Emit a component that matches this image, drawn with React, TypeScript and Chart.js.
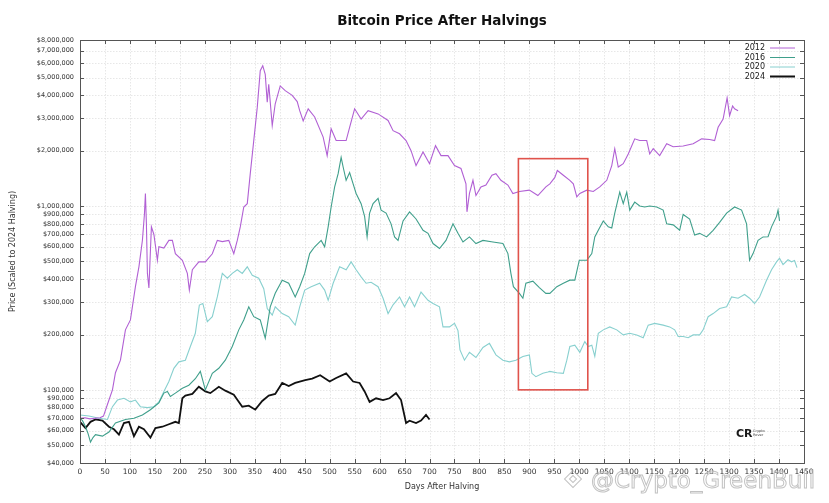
import { useEffect, useRef } from "react";
import { Chart, registerables } from "chart.js";

Chart.register(...registerables);

const seriesLabels = ["2012", "2016", "2020", "2024"];
const seriesColors = ["#b160d4", "#3f9f8b", "#88d0cf", "#111111"];
const seriesWidths = [1.1, 1.1, 1.1, 1.8];

const days2012 = [0, 10, 20, 30, 40, 47, 58, 65, 71, 81, 91, 101, 111, 118, 125, 129, 131, 133, 135, 138, 143, 148, 155, 158, 168, 178, 185, 191, 205, 215, 219, 225, 238, 251, 265, 275, 285, 298, 308, 315, 321, 328, 335, 341, 348, 355, 361, 366, 371, 375, 378, 385, 391, 401, 411, 425, 435, 440, 447, 457, 470, 487, 495, 503, 513, 533, 540, 550, 563, 577, 597, 617, 627, 640, 653, 663, 673, 687, 700, 712, 723, 737, 750, 763, 773, 775, 780, 787, 793, 803, 813, 825, 833, 843, 857, 867, 880, 900, 917, 933, 941, 951, 956, 968, 981, 988, 995, 1001, 1015, 1028, 1041, 1055, 1065, 1071, 1078, 1088, 1098, 1111, 1121, 1135, 1141, 1148, 1161, 1175, 1188, 1208, 1228, 1245, 1261, 1271, 1278, 1288, 1296, 1301, 1307, 1311, 1318];
const price2012 = [70000, 70500, 69500, 70000, 70500, 72000, 88000, 100000, 124000, 145000, 212000, 240000, 364000, 467000, 651000, 900000, 1170000, 800000, 430000, 358000, 770000, 700000, 507000, 600000, 590000, 650000, 650000, 551000, 507000, 430000, 349000, 450000, 497000, 497000, 550000, 650000, 640000, 650000, 550000, 650000, 770000, 988000, 1030000, 1500000, 2270000, 3440000, 5450000, 5800000, 5200000, 3670000, 4600000, 2740000, 3600000, 4500000, 4240000, 4000000, 3700000, 3300000, 2900000, 3380000, 3050000, 2370000, 1880000, 2630000, 2270000, 2270000, 2680000, 3380000, 2970000, 3300000, 3170000, 2920000, 2570000, 2470000, 2270000, 2000000, 1660000, 1970000, 1700000, 2130000, 1880000, 1880000, 1660000, 1600000, 1320000, 930000, 1170000, 1380000, 1140000, 1270000, 1300000, 1470000, 1500000, 1380000, 1300000, 1170000, 1200000, 1220000, 1140000, 1270000, 1320000, 1430000, 1560000, 1470000, 1380000, 1320000, 1120000, 1170000, 1220000, 1200000, 1270000, 1380000, 1660000, 2050000, 1630000, 1700000, 1920000, 2320000, 2270000, 2270000, 1920000, 2050000, 1880000, 2180000, 2100000, 2120000, 2180000, 2320000, 2300000, 2270000, 2680000, 2970000, 3870000, 3100000, 3500000, 3380000, 3300000];

const days2016 = [0, 5, 11, 16, 21, 26, 31, 45, 58, 71, 91, 108, 125, 141, 158, 168, 175, 181, 191, 205, 218, 231, 241, 251, 265, 278, 291, 305, 318, 328, 338, 348, 361, 371, 381, 391, 405, 418, 431, 440, 450, 460, 470, 483, 490, 497, 503, 510, 517, 523, 527, 533, 540, 547, 553, 563, 570, 575, 580, 587, 597, 603, 613, 623, 630, 637, 647, 660, 673, 687, 697, 707, 720, 733, 747, 757, 767, 780, 793, 807, 827, 847, 857, 863, 868, 880, 887, 893, 907, 920, 933, 941, 955, 968, 981, 991, 1000, 1015, 1025, 1031, 1038, 1048, 1058, 1065, 1071, 1081, 1088, 1095, 1101, 1111, 1121, 1131, 1141, 1155, 1168, 1175, 1188, 1201, 1208, 1221, 1231, 1241, 1255, 1268, 1281, 1295, 1311, 1325, 1335, 1341, 1348, 1358, 1368, 1378, 1385, 1395, 1398, 1401];
const price2016 = [70000, 68000, 63000, 58000, 52000, 55000, 57000, 56000, 59000, 66000, 69000, 70000, 73000, 78000, 85000, 96000, 98000, 92000, 96000, 102000, 106000, 115000, 126000, 100000, 123000, 131000, 145000, 172000, 212000, 240000, 283000, 250000, 240000, 191000, 283000, 335000, 395000, 380000, 320000, 364000, 430000, 551000, 600000, 650000, 600000, 770000, 988000, 1270000, 1500000, 1840000, 1630000, 1380000, 1520000, 1320000, 1170000, 1030000, 878000, 679000, 915000, 1030000, 1100000, 950000, 915000, 800000, 679000, 650000, 830000, 930000, 850000, 738000, 710000, 625000, 587000, 650000, 800000, 710000, 637000, 679000, 625000, 650000, 637000, 625000, 551000, 430000, 364000, 335000, 315000, 380000, 390000, 360000, 335000, 335000, 364000, 380000, 395000, 395000, 507000, 507000, 551000, 679000, 738000, 830000, 770000, 760000, 915000, 1190000, 1030000, 1190000, 950000, 1050000, 1000000, 988000, 1000000, 988000, 950000, 800000, 790000, 738000, 900000, 850000, 695000, 710000, 679000, 738000, 815000, 915000, 988000, 950000, 800000, 507000, 551000, 650000, 679000, 680000, 770000, 878000, 950000, 830000];

const days2020 = [0, 18, 38, 55, 65, 75, 88, 101, 111, 121, 135, 148, 158, 168, 178, 188, 198, 211, 221, 231, 239, 246, 255, 265, 275, 285, 295, 305, 315, 325, 335, 345, 358, 368, 375, 385, 391, 405, 418, 431, 440, 450, 463, 480, 490, 497, 507, 520, 533, 543, 553, 563, 573, 583, 597, 607, 617, 627, 640, 650, 660, 670, 683, 697, 707, 720, 727, 740, 750, 757, 761, 770, 780, 793, 807, 820, 833, 847, 860, 873, 887, 900, 905, 913, 927, 937, 941, 955, 968, 975, 981, 991, 1001, 1011, 1018, 1025, 1031, 1038, 1048, 1061, 1075, 1088, 1101, 1115, 1128, 1138, 1151, 1168, 1181, 1191, 1198, 1208, 1218, 1228, 1241, 1248, 1258, 1268, 1281, 1295, 1305, 1318, 1331, 1341, 1351, 1361, 1375, 1385, 1395, 1401, 1408, 1418, 1425, 1431, 1436];
const price2020 = [73000, 72000, 70000, 69000, 81000, 88000, 90000, 86000, 88000, 81000, 80000, 81000, 86000, 98000, 111000, 131000, 142000, 145000, 172000, 203000, 289000, 295000, 235000, 250000, 320000, 430000, 405000, 430000, 450000, 430000, 467000, 420000, 405000, 355000, 277000, 255000, 283000, 260000, 250000, 225000, 283000, 349000, 364000, 380000, 349000, 307000, 380000, 467000, 450000, 497000, 450000, 412000, 380000, 385000, 364000, 315000, 260000, 290000, 320000, 283000, 320000, 283000, 340000, 307000, 295000, 283000, 220000, 220000, 230000, 210000, 165000, 145000, 160000, 150000, 170000, 179000, 155000, 145000, 142000, 145000, 152000, 155000, 123000, 118000, 123000, 125000, 126000, 124000, 123000, 145000, 172000, 175000, 160000, 183000, 172000, 175000, 152000, 203000, 212000, 220000, 212000, 199000, 203000, 199000, 192000, 225000, 230000, 225000, 220000, 212000, 195000, 195000, 192000, 199000, 199000, 212000, 250000, 260000, 277000, 283000, 320000, 315000, 330000, 315000, 295000, 320000, 395000, 450000, 497000, 520000, 480000, 510000, 497000, 505000, 462000];

const days2024 = [0, 11, 21, 31, 45, 58, 68, 78, 88, 98, 108, 118, 128, 141, 151, 165, 178, 191, 198, 205, 211, 225, 238, 251, 261, 278, 291, 308, 325, 338, 351, 365, 378, 391, 405, 418, 431, 451, 465, 481, 500, 513, 533, 547, 560, 570, 580, 593, 607, 620, 633, 643, 653, 660, 673, 683, 693, 700];
const price2024 = [67000, 62000, 67000, 69000, 68000, 63000, 61000, 57000, 66000, 67000, 56000, 63000, 61000, 55000, 62000, 63000, 65000, 67000, 66000, 90000, 93000, 95000, 104000, 98000, 96000, 104000, 99000, 94000, 81000, 82000, 78000, 87000, 93000, 95000, 109000, 105000, 109000, 113000, 115000, 120000, 111000, 116000, 123000, 111000, 109000, 98000, 86000, 90000, 88000, 90000, 96000, 88000, 66000, 68000, 66000, 68000, 73000, 69000];

const yTickValues = [40000, 50000, 60000, 70000, 80000, 90000, 100000, 200000, 300000, 400000, 500000, 600000, 700000, 800000, 900000, 1000000, 2000000, 3000000, 4000000, 5000000, 6000000, 7000000, 8000000];
const xRange = [0, 1450];
const xStep = 50;

const highlightDays = [878, 1017];
const highlightPrices = [100000, 1810000];

const titleText = "Bitcoin Price After Halvings";
const xTitle = "Days After Halving";
const yTitle = "Price (Scaled to 2024 Halving)";
const watermarkText = "@Crypto_GreenBull";

const FONT = "'DejaVu Sans', sans-serif";

function toPoints(d: number[], p: number[]) {
  return d.map((x, i) => ({ x, y: p[i] }));
}

const decorPlugin = {
  id: "decor",
  beforeDatasetsDraw(chart: any) {
    const { ctx, chartArea: a, scales } = chart;
    ctx.save();
    ctx.strokeStyle = "#dcdcdc";
    ctx.lineWidth = 0.7;
    ctx.setLineDash([1.5, 1.5]);
    scales.x.ticks.forEach((t: any) => {
      const px = Math.round(scales.x.getPixelForValue(t.value)) + 0.5;
      ctx.beginPath();
      ctx.moveTo(px, a.top);
      ctx.lineTo(px, a.bottom);
      ctx.stroke();
    });
    scales.y.ticks.forEach((t: any) => {
      const py = Math.round(scales.y.getPixelForValue(t.value)) + 0.5;
      ctx.beginPath();
      ctx.moveTo(a.left, py);
      ctx.lineTo(a.right, py);
      ctx.stroke();
    });
    ctx.restore();
  },
  afterDatasetsDraw(chart: any) {
    const { ctx, chartArea: a, scales } = chart;
    ctx.save();
    // highlight box
    const rx1 = scales.x.getPixelForValue(highlightDays[0]);
    const rx2 = scales.x.getPixelForValue(highlightDays[1]);
    const ry1 = scales.y.getPixelForValue(highlightPrices[1]);
    const ry2 = scales.y.getPixelForValue(highlightPrices[0]);
    ctx.strokeStyle = "#e0534c";
    ctx.lineWidth = 1.6;
    ctx.strokeRect(rx1, ry1, rx2 - rx1, ry2 - ry1);

    // border
    ctx.strokeStyle = "#555555";
    ctx.lineWidth = 1;
    ctx.strokeRect(Math.round(a.left) + 0.5, Math.round(a.top) + 0.5, Math.round(a.right - a.left), Math.round(a.bottom - a.top));
    // inward ticks
    const tl = 4;
    ctx.beginPath();
    scales.x.ticks.forEach((t: any) => {
      const px = Math.round(scales.x.getPixelForValue(t.value)) + 0.5;
      ctx.moveTo(px, a.bottom);
      ctx.lineTo(px, a.bottom - tl);
      ctx.moveTo(px, a.top);
      ctx.lineTo(px, a.top + tl);
    });
    scales.y.ticks.forEach((t: any) => {
      const py = Math.round(scales.y.getPixelForValue(t.value)) + 0.5;
      ctx.moveTo(a.left, py);
      ctx.lineTo(a.left + tl, py);
      ctx.moveTo(a.right, py);
      ctx.lineTo(a.right - tl, py);
    });
    ctx.stroke();

    // legend (gnuplot style)
    ctx.font = `8px ${FONT}`;
    ctx.textAlign = "right";
    ctx.textBaseline = "middle";
    chart.data.datasets.forEach((ds: any, i: number) => {
      const y = a.top + 8 + i * 9.5;
      ctx.fillStyle = "#222222";
      ctx.fillText(ds.label, a.right - 39, y);
      ctx.strokeStyle = ds.borderColor;
      ctx.lineWidth = i === 3 ? 2 : 1;
      ctx.beginPath();
      ctx.moveTo(a.right - 34, y);
      ctx.lineTo(a.right - 9, y);
      ctx.stroke();
    });

    // titles
    ctx.fillStyle = "#111111";
    ctx.textAlign = "center";
    ctx.textBaseline = "middle";
    ctx.font = `bold 13.5px ${FONT}`;
    ctx.fillText(titleText, (a.left + a.right) / 2, 21);
    ctx.fillStyle = "#333333";
    ctx.font = `8px ${FONT}`;
    ctx.fillText(xTitle, (a.left + a.right) / 2, 487);
    ctx.save();
    ctx.translate(13, (a.top + a.bottom) / 2);
    ctx.rotate(-Math.PI / 2);
    ctx.fillText(yTitle, 0, 0);
    ctx.restore();

    // logo
    ctx.fillStyle = "#1a1a1a";
    ctx.textAlign = "left";
    ctx.font = `bold 11px ${FONT}`;
    ctx.fillText("CR", a.right - 68, a.bottom - 29);
    ctx.font = `3.5px ${FONT}`;
    ctx.fillStyle = "#444";
    ctx.fillText("Crypto", a.right - 51, a.bottom - 31.5);
    ctx.fillText("Rover", a.right - 51, a.bottom - 27.5);

    // watermark
    ctx.globalAlpha = 0.7;
    ctx.strokeStyle = "#a8a8a8";
    ctx.fillStyle = "rgba(255,255,255,0.55)";
    ctx.lineWidth = 1;
    ctx.font = `23px ${FONT}`;
    ctx.textAlign = "left";
    ctx.textBaseline = "alphabetic";
    ctx.fillText(watermarkText, 591, 488);
    ctx.strokeText(watermarkText, 591, 488);
    // diamond icon
    ctx.translate(573, 479);
    ctx.rotate(Math.PI / 4);
    ctx.strokeRect(-6, -6, 12, 12);
    ctx.strokeRect(-2.5, -2.5, 5, 5);
    ctx.restore();
  },
};

export default function App() {
  const ref = useRef<HTMLCanvasElement | null>(null);
  useEffect(() => {
    document.body.style.margin = "0";
    const canvas = ref.current;
    if (!canvas) return;
    const series = [
      toPoints(days2012, price2012),
      toPoints(days2016, price2016),
      toPoints(days2020, price2020),
      toPoints(days2024, price2024),
    ];
    const chart = new Chart(canvas, {
      type: "line",
      data: {
        datasets: series.map((data, i) => ({
          label: seriesLabels[i],
          data,
          borderColor: seriesColors[i],
          backgroundColor: seriesColors[i],
          borderWidth: seriesWidths[i],
          pointRadius: 0,
          tension: 0,
          fill: false,
        })),
      },
      options: {
        animation: false,
        responsive: false,
        devicePixelRatio: 1,
        layout: { padding: { left: 0, right: 25, top: 40, bottom: 0 } },
        plugins: {
          legend: { display: false },
          title: { display: false },
          tooltip: { enabled: false },
        },
        scales: {
          x: {
            type: "linear",
            min: xRange[0],
            max: xRange[1],
            grid: { display: false, drawTicks: false },
            border: { display: false },
            ticks: {
              stepSize: xStep,
              autoSkip: false,
              maxRotation: 0,
              minRotation: 0,
              padding: 5,
              color: "#333333",
              font: { family: FONT, size: 7.5 },
              callback: (v: any) => String(v),
            },
            afterFit: (s: any) => {
              s.height = 40;
            },
          },
          y: {
            type: "logarithmic",
            min: yTickValues[0],
            max: yTickValues[yTickValues.length - 1],
            grid: { display: false, drawTicks: false },
            border: { display: false },
            afterBuildTicks: (s: any) => {
              s.ticks = yTickValues.map((v) => ({ value: v }));
            },
            ticks: {
              autoSkip: false,
              padding: 6,
              color: "#333333",
              font: { family: FONT, size: 6.5 },
              callback: (v: any) => "$" + Number(v).toLocaleString("en-US"),
            },
            afterFit: (s: any) => {
              s.width = 80;
            },
          },
        },
      },
      plugins: [decorPlugin],
    });
    return () => chart.destroy();
  }, []);
  return <canvas ref={ref} width={829} height={503} style={{ display: "block" }} />;
}
